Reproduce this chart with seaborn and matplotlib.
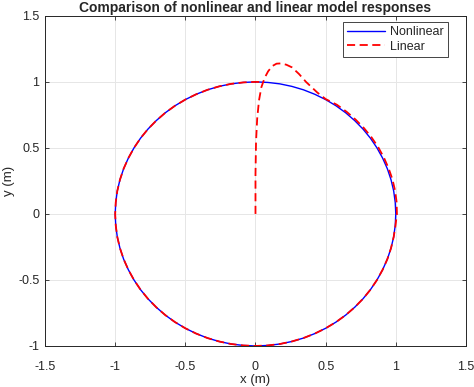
import numpy as np
import pandas as pd
import matplotlib
matplotlib.use("Agg")
import matplotlib.pyplot as plt
import seaborn as sns

# Nonlinear model response (clockwise from the top)
x_nonlin = [0.000, 0.087, 0.174, 0.259, 0.342, 0.423, 0.500, 0.574, 0.643, 0.707,
            0.766, 0.819, 0.866, 0.906, 0.940, 0.966, 0.985, 0.996, 1.000,
            0.996, 0.985, 0.966, 0.940, 0.906, 0.866, 0.819, 0.766, 0.707,
            0.643, 0.574, 0.500, 0.423, 0.342, 0.259, 0.174, 0.087, 0.000,
            -0.087, -0.174, -0.259, -0.342, -0.423, -0.500, -0.574, -0.643, -0.707,
            -0.766, -0.819, -0.866, -0.906, -0.940, -0.966, -0.985, -0.996, -1.000,
            -0.996, -0.985, -0.966, -0.940, -0.906, -0.866, -0.819, -0.766, -0.707,
            -0.643, -0.574, -0.500, -0.423, -0.342, -0.259, -0.174, -0.087, 0.000]
y_nonlin = [1.000, 0.996, 0.985, 0.966, 0.940, 0.906, 0.866, 0.819, 0.766, 0.707,
            0.643, 0.574, 0.500, 0.423, 0.342, 0.259, 0.174, 0.087, 0.000,
            -0.087, -0.174, -0.259, -0.342, -0.423, -0.500, -0.574, -0.643, -0.707,
            -0.766, -0.819, -0.866, -0.906, -0.940, -0.966, -0.985, -0.996, -1.000,
            -0.996, -0.985, -0.966, -0.940, -0.906, -0.866, -0.819, -0.766, -0.707,
            -0.643, -0.574, -0.500, -0.423, -0.342, -0.259, -0.174, -0.087, 0.000,
            0.087, 0.174, 0.259, 0.342, 0.423, 0.500, 0.574, 0.643, 0.707,
            0.766, 0.819, 0.866, 0.906, 0.940, 0.966, 0.985, 0.996, 1.000]

# Linear model response: rises from the origin, overshoots, then follows the circle
x_lin = [0.000, 0.000, 0.004, 0.012, 0.025, 0.042, 0.065, 0.090, 0.120, 0.150, 0.180,
         0.220, 0.260, 0.310, 0.360, 0.440, 0.500, 0.580, 0.649, 0.714, 0.774, 0.827,
         0.875, 0.915, 0.949, 0.976, 0.995, 1.006, 1.008, 0.998,
         0.985, 0.966, 0.940, 0.906, 0.866, 0.819, 0.766, 0.707,
         0.643, 0.574, 0.500, 0.423, 0.342, 0.259, 0.174, 0.087, 0.000,
         -0.087, -0.174, -0.259, -0.342, -0.423, -0.500, -0.574, -0.643, -0.707,
         -0.766, -0.819, -0.866, -0.906, -0.940, -0.966, -0.985, -0.996, -1.000,
         -0.996, -0.985, -0.966, -0.940, -0.906, -0.866, -0.819, -0.766, -0.707,
         -0.643, -0.574, -0.500, -0.423, -0.342, -0.259, -0.174, -0.087, 0.000, 0.035]
y_lin = [0.000, 0.300, 0.550, 0.720, 0.860, 0.960, 1.030, 1.080, 1.120, 1.138, 1.140,
         1.130, 1.110, 1.060, 1.000, 0.920, 0.870, 0.827, 0.774, 0.714, 0.649, 0.580,
         0.505, 0.427, 0.345, 0.262, 0.176, 0.088, 0.000, -0.087,
         -0.174, -0.259, -0.342, -0.423, -0.500, -0.574, -0.643, -0.707,
         -0.766, -0.819, -0.866, -0.906, -0.940, -0.966, -0.985, -0.996, -1.000,
         -0.996, -0.985, -0.966, -0.940, -0.906, -0.866, -0.819, -0.766, -0.707,
         -0.643, -0.574, -0.500, -0.423, -0.342, -0.259, -0.174, -0.087, 0.000,
         0.087, 0.174, 0.259, 0.342, 0.423, 0.500, 0.574, 0.643, 0.707,
         0.766, 0.819, 0.866, 0.906, 0.940, 0.966, 0.985, 0.996, 1.000, 0.999]

df_nl = pd.DataFrame({"x": x_nonlin, "y": y_nonlin})
df_l = pd.DataFrame({"x": x_lin, "y": y_lin})

sns.set_style("whitegrid")
plt.rcParams["font.family"] = ["Liberation Sans", "DejaVu Sans"]

fig = plt.figure(figsize=(4.74, 3.87), dpi=100)
ax = fig.add_axes([0.095, 0.106, 0.888, 0.853])

sns.lineplot(data=df_nl, x="x", y="y", sort=False, estimator=None, ax=ax,
             color="#0000ff", linewidth=1.0, label="Nonlinear")
sns.lineplot(data=df_l, x="x", y="y", sort=False, estimator=None, ax=ax,
             color="#ff0000", linewidth=1.3, linestyle=(0, (4.5, 2.5)), label="Linear")

ax.set_xlim(-1.5, 1.5)
ax.set_ylim(-1, 1.5)
ax.set_xticks([-1.5, -1, -0.5, 0, 0.5, 1, 1.5])
ax.set_xticklabels(["-1.5", "-1", "-0.5", "0", "0.5", "1", "1.5"])
ax.set_yticks([-1, -0.5, 0, 0.5, 1, 1.5])
ax.set_yticklabels(["-1", "-0.5", "0", "0.5", "1", "1.5"])
ax.grid(True, color="#e6e6e6", linewidth=0.7)
ax.tick_params(direction="in", length=3, width=0.6, colors="#262626",
               labelsize=9, top=True, right=True, left=True, bottom=True)
ax.tick_params(axis="x", pad=11)
ax.tick_params(axis="y", pad=4)
for s in ax.spines.values():
    s.set_visible(True)
    s.set_color("#262626")
    s.set_linewidth(0.7)

ax.set_xlabel("x (m)", fontsize=9.5, color="#262626", labelpad=0.5)
ax.set_ylabel("y (m)", fontsize=9.5, color="#262626", labelpad=2)
ax.set_title("Comparison of nonlinear and linear model responses",
             fontsize=10, fontweight="bold", pad=3)

leg = ax.legend(loc="upper right", bbox_to_anchor=(0.957, 0.982), fontsize=9,
                fancybox=False, framealpha=1, edgecolor="#262626", borderaxespad=0,
                handlelength=3.0, handletextpad=0.4, borderpad=0.35, labelspacing=0.2)
leg.get_frame().set_linewidth(0.6)

fig.savefig("out.png", dpi=100)
